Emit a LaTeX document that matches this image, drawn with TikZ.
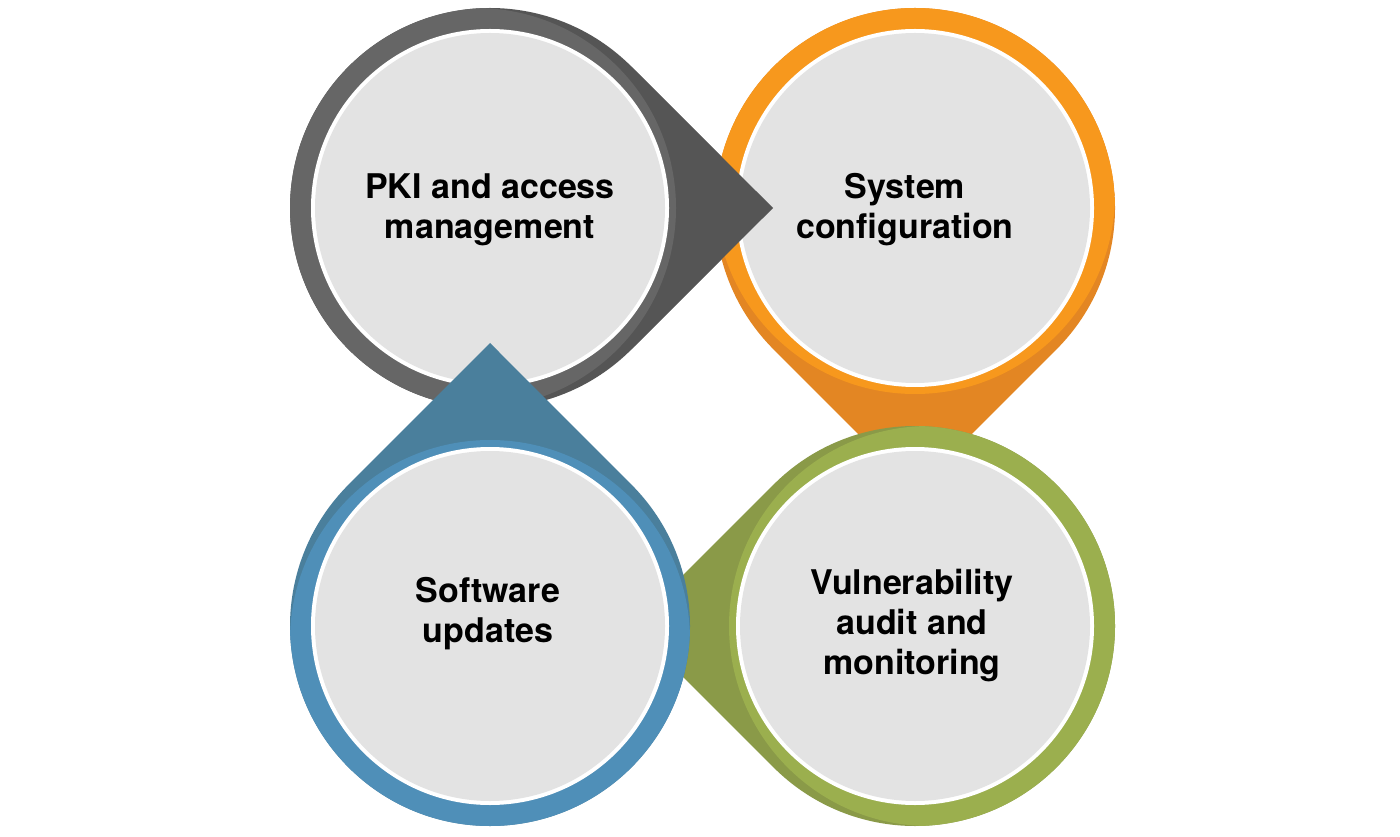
\documentclass[tikz,border=0pt]{standalone}
\usepackage{fontspec}
\setmainfont{TeX Gyre Heros}
\usetikzlibrary{calc}
\definecolor{gmain}{HTML}{666666}\definecolor{gdark}{HTML}{555555}
\definecolor{omain}{HTML}{F7981D}\definecolor{odark}{HTML}{E38623}
\definecolor{lmain}{HTML}{9BAF4E}\definecolor{ldark}{HTML}{8A9A48}
\definecolor{bmain}{HTML}{4F8FB8}\definecolor{bdark}{HTML}{4A7F9C}
\definecolor{inner}{HTML}{E3E3E3}
\newcommand\drawdrop[5]{%
  \fill[#5] ($(#1,#2)+(#3+45:200)$) arc[start angle=#3+45,end angle=#3+315,radius=200] -- ($(#1,#2)+(#3:283)$) -- cycle;
  \begin{scope}
    \clip (#1,#2) circle[radius=200];
    \fill[#4] ($(#1,#2)+(#3+180:14)$) circle[radius=200];
  \end{scope}
  \fill[white] (#1,#2) circle[radius=179];
  \fill[inner] (#1,#2) circle[radius=175];
}
\tikzset{lbl/.style={font=\fontsize{17}{20}\selectfont\bfseries,align=center,text=black}}
\begin{document}
\begin{tikzpicture}[x=0.5pt,y=0.5pt]
\useasboundingbox (0,0) rectangle (1400,836);
\fill[white] (0,0) rectangle (1400,836);
\drawdrop{490}{628}{0}{gmain}{gdark}
\drawdrop{915}{628}{-90}{omain}{odark}
\drawdrop{915}{210}{180}{lmain}{ldark}
\drawdrop{490}{210}{90}{bmain}{bdark}
\fill[gdark] ($(490,628)+(45:200)$) -- ($(490,628)+(0:283)$) -- ($(490,628)+(-45:200)$) arc[start angle=-45,end angle=45,radius=200] -- cycle;
\node[lbl] (t1) at (490,626) {PKI and access\\management};
\node[lbl] (t2) at (905,626) {System\\configuration};
\node[lbl] (t3) at (912,210) {Vulnerability\\audit and\\monitoring};
\node[lbl] (t4) at (488,222) {Software\\updates};
\end{tikzpicture}
\end{document}
